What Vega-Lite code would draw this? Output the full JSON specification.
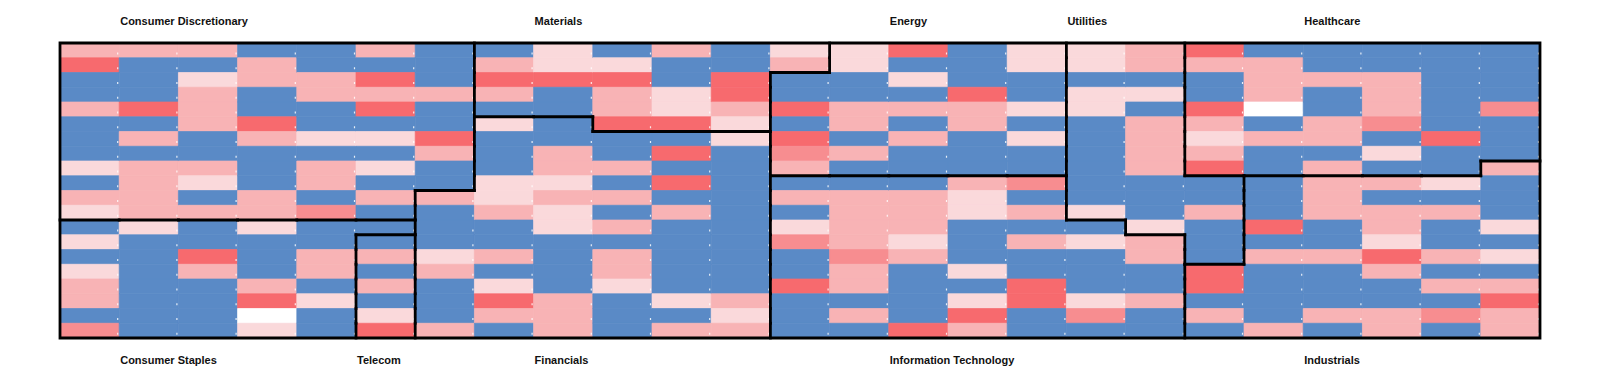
{
"$schema": "https://vega.github.io/schema/vega-lite/v6.json",
"width": 1480, "height": 295,
"autosize": {"type": "none"},
"padding": {"left": 60, "top": 43, "right": 60, "bottom": 44},
"background": "white",
"config": {"view": {"stroke": null}},
"datasets": {
"labels": [
{"name":"Consumer Discretionary","c":1,"side":"top"},
{"name":"Materials","c":8,"side":"top"},
{"name":"Energy","c":14,"side":"top"},
{"name":"Utilities","c":17,"side":"top"},
{"name":"Healthcare","c":21,"side":"top"},
{"name":"Consumer Staples","c":1,"side":"bottom"},
{"name":"Telecom","c":5,"side":"bottom"},
{"name":"Financials","c":8,"side":"bottom"},
{"name":"Information Technology","c":14,"side":"bottom"},
{"name":"Industrials","c":21,"side":"bottom"}
],
"cells": [
{"c":0,"r":0,"v":"P","s":"CD"},{"c":0,"r":1,"v":"R","s":"CD"},{"c":0,"r":2,"v":"B","s":"CD"},{"c":0,"r":3,"v":"B","s":"CD"},{"c":0,"r":4,"v":"P","s":"CD"},{"c":0,"r":5,"v":"B","s":"CD"},{"c":0,"r":6,"v":"B","s":"CD"},{"c":0,"r":7,"v":"B","s":"CD"},{"c":0,"r":8,"v":"L","s":"CD"},{"c":0,"r":9,"v":"B","s":"CD"},{"c":0,"r":10,"v":"P","s":"CD"},{"c":0,"r":11,"v":"L","s":"CD"},{"c":0,"r":12,"v":"B","s":"CS"},{"c":0,"r":13,"v":"L","s":"CS"},{"c":0,"r":14,"v":"B","s":"CS"},{"c":0,"r":15,"v":"L","s":"CS"},{"c":0,"r":16,"v":"P","s":"CS"},{"c":0,"r":17,"v":"P","s":"CS"},{"c":0,"r":18,"v":"B","s":"CS"},{"c":0,"r":19,"v":"M","s":"CS"},
{"c":1,"r":0,"v":"P","s":"CD"},{"c":1,"r":1,"v":"B","s":"CD"},{"c":1,"r":2,"v":"B","s":"CD"},{"c":1,"r":3,"v":"B","s":"CD"},{"c":1,"r":4,"v":"R","s":"CD"},{"c":1,"r":5,"v":"B","s":"CD"},{"c":1,"r":6,"v":"P","s":"CD"},{"c":1,"r":7,"v":"B","s":"CD"},{"c":1,"r":8,"v":"P","s":"CD"},{"c":1,"r":9,"v":"P","s":"CD"},{"c":1,"r":10,"v":"P","s":"CD"},{"c":1,"r":11,"v":"P","s":"CD"},{"c":1,"r":12,"v":"L","s":"CS"},{"c":1,"r":13,"v":"B","s":"CS"},{"c":1,"r":14,"v":"B","s":"CS"},{"c":1,"r":15,"v":"B","s":"CS"},{"c":1,"r":16,"v":"B","s":"CS"},{"c":1,"r":17,"v":"B","s":"CS"},{"c":1,"r":18,"v":"B","s":"CS"},{"c":1,"r":19,"v":"B","s":"CS"},
{"c":2,"r":0,"v":"P","s":"CD"},{"c":2,"r":1,"v":"B","s":"CD"},{"c":2,"r":2,"v":"L","s":"CD"},{"c":2,"r":3,"v":"P","s":"CD"},{"c":2,"r":4,"v":"P","s":"CD"},{"c":2,"r":5,"v":"P","s":"CD"},{"c":2,"r":6,"v":"B","s":"CD"},{"c":2,"r":7,"v":"B","s":"CD"},{"c":2,"r":8,"v":"P","s":"CD"},{"c":2,"r":9,"v":"L","s":"CD"},{"c":2,"r":10,"v":"B","s":"CD"},{"c":2,"r":11,"v":"P","s":"CD"},{"c":2,"r":12,"v":"B","s":"CS"},{"c":2,"r":13,"v":"B","s":"CS"},{"c":2,"r":14,"v":"R","s":"CS"},{"c":2,"r":15,"v":"P","s":"CS"},{"c":2,"r":16,"v":"B","s":"CS"},{"c":2,"r":17,"v":"B","s":"CS"},{"c":2,"r":18,"v":"B","s":"CS"},{"c":2,"r":19,"v":"B","s":"CS"},
{"c":3,"r":0,"v":"B","s":"CD"},{"c":3,"r":1,"v":"P","s":"CD"},{"c":3,"r":2,"v":"P","s":"CD"},{"c":3,"r":3,"v":"B","s":"CD"},{"c":3,"r":4,"v":"B","s":"CD"},{"c":3,"r":5,"v":"R","s":"CD"},{"c":3,"r":6,"v":"P","s":"CD"},{"c":3,"r":7,"v":"B","s":"CD"},{"c":3,"r":8,"v":"B","s":"CD"},{"c":3,"r":9,"v":"B","s":"CD"},{"c":3,"r":10,"v":"P","s":"CD"},{"c":3,"r":11,"v":"P","s":"CD"},{"c":3,"r":12,"v":"L","s":"CS"},{"c":3,"r":13,"v":"B","s":"CS"},{"c":3,"r":14,"v":"B","s":"CS"},{"c":3,"r":15,"v":"B","s":"CS"},{"c":3,"r":16,"v":"P","s":"CS"},{"c":3,"r":17,"v":"R","s":"CS"},{"c":3,"r":18,"v":"W","s":"CS"},{"c":3,"r":19,"v":"L","s":"CS"},
{"c":4,"r":0,"v":"B","s":"CD"},{"c":4,"r":1,"v":"B","s":"CD"},{"c":4,"r":2,"v":"P","s":"CD"},{"c":4,"r":3,"v":"P","s":"CD"},{"c":4,"r":4,"v":"B","s":"CD"},{"c":4,"r":5,"v":"B","s":"CD"},{"c":4,"r":6,"v":"L","s":"CD"},{"c":4,"r":7,"v":"B","s":"CD"},{"c":4,"r":8,"v":"P","s":"CD"},{"c":4,"r":9,"v":"P","s":"CD"},{"c":4,"r":10,"v":"B","s":"CD"},{"c":4,"r":11,"v":"M","s":"CD"},{"c":4,"r":12,"v":"B","s":"CS"},{"c":4,"r":13,"v":"B","s":"CS"},{"c":4,"r":14,"v":"P","s":"CS"},{"c":4,"r":15,"v":"P","s":"CS"},{"c":4,"r":16,"v":"B","s":"CS"},{"c":4,"r":17,"v":"L","s":"CS"},{"c":4,"r":18,"v":"B","s":"CS"},{"c":4,"r":19,"v":"B","s":"CS"},
{"c":5,"r":0,"v":"P","s":"CD"},{"c":5,"r":1,"v":"B","s":"CD"},{"c":5,"r":2,"v":"R","s":"CD"},{"c":5,"r":3,"v":"P","s":"CD"},{"c":5,"r":4,"v":"R","s":"CD"},{"c":5,"r":5,"v":"B","s":"CD"},{"c":5,"r":6,"v":"L","s":"CD"},{"c":5,"r":7,"v":"B","s":"CD"},{"c":5,"r":8,"v":"L","s":"CD"},{"c":5,"r":9,"v":"B","s":"CD"},{"c":5,"r":10,"v":"P","s":"CD"},{"c":5,"r":11,"v":"B","s":"CD"},{"c":5,"r":12,"v":"B","s":"CS"},{"c":5,"r":13,"v":"B","s":"T"},{"c":5,"r":14,"v":"P","s":"T"},{"c":5,"r":15,"v":"B","s":"T"},{"c":5,"r":16,"v":"P","s":"T"},{"c":5,"r":17,"v":"B","s":"T"},{"c":5,"r":18,"v":"L","s":"T"},{"c":5,"r":19,"v":"R","s":"T"},
{"c":6,"r":0,"v":"B","s":"CD"},{"c":6,"r":1,"v":"B","s":"CD"},{"c":6,"r":2,"v":"B","s":"CD"},{"c":6,"r":3,"v":"P","s":"CD"},{"c":6,"r":4,"v":"B","s":"CD"},{"c":6,"r":5,"v":"B","s":"CD"},{"c":6,"r":6,"v":"R","s":"CD"},{"c":6,"r":7,"v":"P","s":"CD"},{"c":6,"r":8,"v":"B","s":"CD"},{"c":6,"r":9,"v":"B","s":"CD"},{"c":6,"r":10,"v":"P","s":"F"},{"c":6,"r":11,"v":"B","s":"F"},{"c":6,"r":12,"v":"B","s":"F"},{"c":6,"r":13,"v":"B","s":"F"},{"c":6,"r":14,"v":"L","s":"F"},{"c":6,"r":15,"v":"P","s":"F"},{"c":6,"r":16,"v":"B","s":"F"},{"c":6,"r":17,"v":"B","s":"F"},{"c":6,"r":18,"v":"B","s":"F"},{"c":6,"r":19,"v":"P","s":"F"},
{"c":7,"r":0,"v":"B","s":"M"},{"c":7,"r":1,"v":"P","s":"M"},{"c":7,"r":2,"v":"R","s":"M"},{"c":7,"r":3,"v":"P","s":"M"},{"c":7,"r":4,"v":"B","s":"M"},{"c":7,"r":5,"v":"L","s":"F"},{"c":7,"r":6,"v":"B","s":"F"},{"c":7,"r":7,"v":"B","s":"F"},{"c":7,"r":8,"v":"B","s":"F"},{"c":7,"r":9,"v":"L","s":"F"},{"c":7,"r":10,"v":"L","s":"F"},{"c":7,"r":11,"v":"P","s":"F"},{"c":7,"r":12,"v":"B","s":"F"},{"c":7,"r":13,"v":"B","s":"F"},{"c":7,"r":14,"v":"P","s":"F"},{"c":7,"r":15,"v":"B","s":"F"},{"c":7,"r":16,"v":"L","s":"F"},{"c":7,"r":17,"v":"R","s":"F"},{"c":7,"r":18,"v":"P","s":"F"},{"c":7,"r":19,"v":"B","s":"F"},
{"c":8,"r":0,"v":"L","s":"M"},{"c":8,"r":1,"v":"L","s":"M"},{"c":8,"r":2,"v":"R","s":"M"},{"c":8,"r":3,"v":"B","s":"M"},{"c":8,"r":4,"v":"B","s":"M"},{"c":8,"r":5,"v":"B","s":"F"},{"c":8,"r":6,"v":"B","s":"F"},{"c":8,"r":7,"v":"P","s":"F"},{"c":8,"r":8,"v":"P","s":"F"},{"c":8,"r":9,"v":"L","s":"F"},{"c":8,"r":10,"v":"P","s":"F"},{"c":8,"r":11,"v":"L","s":"F"},{"c":8,"r":12,"v":"L","s":"F"},{"c":8,"r":13,"v":"B","s":"F"},{"c":8,"r":14,"v":"B","s":"F"},{"c":8,"r":15,"v":"B","s":"F"},{"c":8,"r":16,"v":"B","s":"F"},{"c":8,"r":17,"v":"P","s":"F"},{"c":8,"r":18,"v":"P","s":"F"},{"c":8,"r":19,"v":"P","s":"F"},
{"c":9,"r":0,"v":"B","s":"M"},{"c":9,"r":1,"v":"L","s":"M"},{"c":9,"r":2,"v":"R","s":"M"},{"c":9,"r":3,"v":"P","s":"M"},{"c":9,"r":4,"v":"P","s":"M"},{"c":9,"r":5,"v":"R","s":"M"},{"c":9,"r":6,"v":"B","s":"F"},{"c":9,"r":7,"v":"B","s":"F"},{"c":9,"r":8,"v":"P","s":"F"},{"c":9,"r":9,"v":"B","s":"F"},{"c":9,"r":10,"v":"P","s":"F"},{"c":9,"r":11,"v":"B","s":"F"},{"c":9,"r":12,"v":"P","s":"F"},{"c":9,"r":13,"v":"B","s":"F"},{"c":9,"r":14,"v":"P","s":"F"},{"c":9,"r":15,"v":"P","s":"F"},{"c":9,"r":16,"v":"L","s":"F"},{"c":9,"r":17,"v":"B","s":"F"},{"c":9,"r":18,"v":"B","s":"F"},{"c":9,"r":19,"v":"B","s":"F"},
{"c":10,"r":0,"v":"P","s":"M"},{"c":10,"r":1,"v":"B","s":"M"},{"c":10,"r":2,"v":"B","s":"M"},{"c":10,"r":3,"v":"L","s":"M"},{"c":10,"r":4,"v":"L","s":"M"},{"c":10,"r":5,"v":"R","s":"M"},{"c":10,"r":6,"v":"B","s":"F"},{"c":10,"r":7,"v":"R","s":"F"},{"c":10,"r":8,"v":"B","s":"F"},{"c":10,"r":9,"v":"R","s":"F"},{"c":10,"r":10,"v":"B","s":"F"},{"c":10,"r":11,"v":"P","s":"F"},{"c":10,"r":12,"v":"B","s":"F"},{"c":10,"r":13,"v":"B","s":"F"},{"c":10,"r":14,"v":"B","s":"F"},{"c":10,"r":15,"v":"B","s":"F"},{"c":10,"r":16,"v":"B","s":"F"},{"c":10,"r":17,"v":"L","s":"F"},{"c":10,"r":18,"v":"B","s":"F"},{"c":10,"r":19,"v":"P","s":"F"},
{"c":11,"r":0,"v":"B","s":"M"},{"c":11,"r":1,"v":"B","s":"M"},{"c":11,"r":2,"v":"R","s":"M"},{"c":11,"r":3,"v":"R","s":"M"},{"c":11,"r":4,"v":"P","s":"M"},{"c":11,"r":5,"v":"L","s":"M"},{"c":11,"r":6,"v":"L","s":"F"},{"c":11,"r":7,"v":"B","s":"F"},{"c":11,"r":8,"v":"B","s":"F"},{"c":11,"r":9,"v":"B","s":"F"},{"c":11,"r":10,"v":"B","s":"F"},{"c":11,"r":11,"v":"B","s":"F"},{"c":11,"r":12,"v":"B","s":"F"},{"c":11,"r":13,"v":"B","s":"F"},{"c":11,"r":14,"v":"B","s":"F"},{"c":11,"r":15,"v":"B","s":"F"},{"c":11,"r":16,"v":"B","s":"F"},{"c":11,"r":17,"v":"P","s":"F"},{"c":11,"r":18,"v":"L","s":"F"},{"c":11,"r":19,"v":"P","s":"F"},
{"c":12,"r":0,"v":"L","s":"M"},{"c":12,"r":1,"v":"P","s":"M"},{"c":12,"r":2,"v":"B","s":"E"},{"c":12,"r":3,"v":"B","s":"E"},{"c":12,"r":4,"v":"R","s":"E"},{"c":12,"r":5,"v":"B","s":"E"},{"c":12,"r":6,"v":"R","s":"E"},{"c":12,"r":7,"v":"M","s":"E"},{"c":12,"r":8,"v":"P","s":"E"},{"c":12,"r":9,"v":"B","s":"IT"},{"c":12,"r":10,"v":"P","s":"IT"},{"c":12,"r":11,"v":"B","s":"IT"},{"c":12,"r":12,"v":"L","s":"IT"},{"c":12,"r":13,"v":"M","s":"IT"},{"c":12,"r":14,"v":"B","s":"IT"},{"c":12,"r":15,"v":"B","s":"IT"},{"c":12,"r":16,"v":"R","s":"IT"},{"c":12,"r":17,"v":"B","s":"IT"},{"c":12,"r":18,"v":"B","s":"IT"},{"c":12,"r":19,"v":"B","s":"IT"},
{"c":13,"r":0,"v":"L","s":"E"},{"c":13,"r":1,"v":"L","s":"E"},{"c":13,"r":2,"v":"B","s":"E"},{"c":13,"r":3,"v":"B","s":"E"},{"c":13,"r":4,"v":"P","s":"E"},{"c":13,"r":5,"v":"P","s":"E"},{"c":13,"r":6,"v":"B","s":"E"},{"c":13,"r":7,"v":"P","s":"E"},{"c":13,"r":8,"v":"B","s":"E"},{"c":13,"r":9,"v":"B","s":"IT"},{"c":13,"r":10,"v":"P","s":"IT"},{"c":13,"r":11,"v":"P","s":"IT"},{"c":13,"r":12,"v":"P","s":"IT"},{"c":13,"r":13,"v":"P","s":"IT"},{"c":13,"r":14,"v":"M","s":"IT"},{"c":13,"r":15,"v":"P","s":"IT"},{"c":13,"r":16,"v":"P","s":"IT"},{"c":13,"r":17,"v":"B","s":"IT"},{"c":13,"r":18,"v":"P","s":"IT"},{"c":13,"r":19,"v":"B","s":"IT"},
{"c":14,"r":0,"v":"R","s":"E"},{"c":14,"r":1,"v":"B","s":"E"},{"c":14,"r":2,"v":"L","s":"E"},{"c":14,"r":3,"v":"B","s":"E"},{"c":14,"r":4,"v":"P","s":"E"},{"c":14,"r":5,"v":"B","s":"E"},{"c":14,"r":6,"v":"P","s":"E"},{"c":14,"r":7,"v":"B","s":"E"},{"c":14,"r":8,"v":"B","s":"E"},{"c":14,"r":9,"v":"B","s":"IT"},{"c":14,"r":10,"v":"P","s":"IT"},{"c":14,"r":11,"v":"P","s":"IT"},{"c":14,"r":12,"v":"P","s":"IT"},{"c":14,"r":13,"v":"L","s":"IT"},{"c":14,"r":14,"v":"P","s":"IT"},{"c":14,"r":15,"v":"B","s":"IT"},{"c":14,"r":16,"v":"B","s":"IT"},{"c":14,"r":17,"v":"B","s":"IT"},{"c":14,"r":18,"v":"B","s":"IT"},{"c":14,"r":19,"v":"R","s":"IT"},
{"c":15,"r":0,"v":"B","s":"E"},{"c":15,"r":1,"v":"B","s":"E"},{"c":15,"r":2,"v":"B","s":"E"},{"c":15,"r":3,"v":"R","s":"E"},{"c":15,"r":4,"v":"P","s":"E"},{"c":15,"r":5,"v":"P","s":"E"},{"c":15,"r":6,"v":"B","s":"E"},{"c":15,"r":7,"v":"B","s":"E"},{"c":15,"r":8,"v":"B","s":"E"},{"c":15,"r":9,"v":"P","s":"IT"},{"c":15,"r":10,"v":"L","s":"IT"},{"c":15,"r":11,"v":"L","s":"IT"},{"c":15,"r":12,"v":"B","s":"IT"},{"c":15,"r":13,"v":"B","s":"IT"},{"c":15,"r":14,"v":"B","s":"IT"},{"c":15,"r":15,"v":"L","s":"IT"},{"c":15,"r":16,"v":"B","s":"IT"},{"c":15,"r":17,"v":"L","s":"IT"},{"c":15,"r":18,"v":"R","s":"IT"},{"c":15,"r":19,"v":"P","s":"IT"},
{"c":16,"r":0,"v":"L","s":"E"},{"c":16,"r":1,"v":"L","s":"E"},{"c":16,"r":2,"v":"B","s":"E"},{"c":16,"r":3,"v":"B","s":"E"},{"c":16,"r":4,"v":"L","s":"E"},{"c":16,"r":5,"v":"B","s":"E"},{"c":16,"r":6,"v":"L","s":"E"},{"c":16,"r":7,"v":"B","s":"E"},{"c":16,"r":8,"v":"B","s":"E"},{"c":16,"r":9,"v":"M","s":"IT"},{"c":16,"r":10,"v":"B","s":"IT"},{"c":16,"r":11,"v":"P","s":"IT"},{"c":16,"r":12,"v":"B","s":"IT"},{"c":16,"r":13,"v":"P","s":"IT"},{"c":16,"r":14,"v":"B","s":"IT"},{"c":16,"r":15,"v":"B","s":"IT"},{"c":16,"r":16,"v":"R","s":"IT"},{"c":16,"r":17,"v":"R","s":"IT"},{"c":16,"r":18,"v":"B","s":"IT"},{"c":16,"r":19,"v":"B","s":"IT"},
{"c":17,"r":0,"v":"L","s":"U"},{"c":17,"r":1,"v":"L","s":"U"},{"c":17,"r":2,"v":"B","s":"U"},{"c":17,"r":3,"v":"L","s":"U"},{"c":17,"r":4,"v":"L","s":"U"},{"c":17,"r":5,"v":"B","s":"U"},{"c":17,"r":6,"v":"B","s":"U"},{"c":17,"r":7,"v":"B","s":"U"},{"c":17,"r":8,"v":"B","s":"U"},{"c":17,"r":9,"v":"B","s":"U"},{"c":17,"r":10,"v":"B","s":"U"},{"c":17,"r":11,"v":"L","s":"U"},{"c":17,"r":12,"v":"B","s":"IT"},{"c":17,"r":13,"v":"L","s":"IT"},{"c":17,"r":14,"v":"B","s":"IT"},{"c":17,"r":15,"v":"B","s":"IT"},{"c":17,"r":16,"v":"B","s":"IT"},{"c":17,"r":17,"v":"L","s":"IT"},{"c":17,"r":18,"v":"M","s":"IT"},{"c":17,"r":19,"v":"B","s":"IT"},
{"c":18,"r":0,"v":"P","s":"U"},{"c":18,"r":1,"v":"P","s":"U"},{"c":18,"r":2,"v":"B","s":"U"},{"c":18,"r":3,"v":"L","s":"U"},{"c":18,"r":4,"v":"B","s":"U"},{"c":18,"r":5,"v":"P","s":"U"},{"c":18,"r":6,"v":"P","s":"U"},{"c":18,"r":7,"v":"P","s":"U"},{"c":18,"r":8,"v":"P","s":"U"},{"c":18,"r":9,"v":"B","s":"U"},{"c":18,"r":10,"v":"B","s":"U"},{"c":18,"r":11,"v":"B","s":"U"},{"c":18,"r":12,"v":"L","s":"U"},{"c":18,"r":13,"v":"P","s":"IT"},{"c":18,"r":14,"v":"P","s":"IT"},{"c":18,"r":15,"v":"B","s":"IT"},{"c":18,"r":16,"v":"B","s":"IT"},{"c":18,"r":17,"v":"P","s":"IT"},{"c":18,"r":18,"v":"B","s":"IT"},{"c":18,"r":19,"v":"B","s":"IT"},
{"c":19,"r":0,"v":"R","s":"HC"},{"c":19,"r":1,"v":"P","s":"HC"},{"c":19,"r":2,"v":"B","s":"HC"},{"c":19,"r":3,"v":"B","s":"HC"},{"c":19,"r":4,"v":"R","s":"HC"},{"c":19,"r":5,"v":"P","s":"HC"},{"c":19,"r":6,"v":"L","s":"HC"},{"c":19,"r":7,"v":"P","s":"HC"},{"c":19,"r":8,"v":"R","s":"HC"},{"c":19,"r":9,"v":"B","s":"U"},{"c":19,"r":10,"v":"B","s":"U"},{"c":19,"r":11,"v":"P","s":"U"},{"c":19,"r":12,"v":"B","s":"U"},{"c":19,"r":13,"v":"B","s":"U"},{"c":19,"r":14,"v":"B","s":"U"},{"c":19,"r":15,"v":"R","s":"I"},{"c":19,"r":16,"v":"R","s":"I"},{"c":19,"r":17,"v":"B","s":"I"},{"c":19,"r":18,"v":"P","s":"I"},{"c":19,"r":19,"v":"B","s":"I"},
{"c":20,"r":0,"v":"B","s":"HC"},{"c":20,"r":1,"v":"P","s":"HC"},{"c":20,"r":2,"v":"P","s":"HC"},{"c":20,"r":3,"v":"P","s":"HC"},{"c":20,"r":4,"v":"W","s":"HC"},{"c":20,"r":5,"v":"B","s":"HC"},{"c":20,"r":6,"v":"P","s":"HC"},{"c":20,"r":7,"v":"B","s":"HC"},{"c":20,"r":8,"v":"B","s":"HC"},{"c":20,"r":9,"v":"B","s":"I"},{"c":20,"r":10,"v":"B","s":"I"},{"c":20,"r":11,"v":"B","s":"I"},{"c":20,"r":12,"v":"R","s":"I"},{"c":20,"r":13,"v":"B","s":"I"},{"c":20,"r":14,"v":"P","s":"I"},{"c":20,"r":15,"v":"B","s":"I"},{"c":20,"r":16,"v":"B","s":"I"},{"c":20,"r":17,"v":"B","s":"I"},{"c":20,"r":18,"v":"B","s":"I"},{"c":20,"r":19,"v":"P","s":"I"},
{"c":21,"r":0,"v":"B","s":"HC"},{"c":21,"r":1,"v":"B","s":"HC"},{"c":21,"r":2,"v":"P","s":"HC"},{"c":21,"r":3,"v":"B","s":"HC"},{"c":21,"r":4,"v":"B","s":"HC"},{"c":21,"r":5,"v":"P","s":"HC"},{"c":21,"r":6,"v":"P","s":"HC"},{"c":21,"r":7,"v":"B","s":"HC"},{"c":21,"r":8,"v":"P","s":"HC"},{"c":21,"r":9,"v":"P","s":"I"},{"c":21,"r":10,"v":"P","s":"I"},{"c":21,"r":11,"v":"P","s":"I"},{"c":21,"r":12,"v":"B","s":"I"},{"c":21,"r":13,"v":"B","s":"I"},{"c":21,"r":14,"v":"P","s":"I"},{"c":21,"r":15,"v":"B","s":"I"},{"c":21,"r":16,"v":"B","s":"I"},{"c":21,"r":17,"v":"B","s":"I"},{"c":21,"r":18,"v":"P","s":"I"},{"c":21,"r":19,"v":"B","s":"I"},
{"c":22,"r":0,"v":"B","s":"HC"},{"c":22,"r":1,"v":"B","s":"HC"},{"c":22,"r":2,"v":"P","s":"HC"},{"c":22,"r":3,"v":"P","s":"HC"},{"c":22,"r":4,"v":"P","s":"HC"},{"c":22,"r":5,"v":"M","s":"HC"},{"c":22,"r":6,"v":"B","s":"HC"},{"c":22,"r":7,"v":"L","s":"HC"},{"c":22,"r":8,"v":"B","s":"HC"},{"c":22,"r":9,"v":"P","s":"I"},{"c":22,"r":10,"v":"B","s":"I"},{"c":22,"r":11,"v":"P","s":"I"},{"c":22,"r":12,"v":"P","s":"I"},{"c":22,"r":13,"v":"L","s":"I"},{"c":22,"r":14,"v":"R","s":"I"},{"c":22,"r":15,"v":"P","s":"I"},{"c":22,"r":16,"v":"B","s":"I"},{"c":22,"r":17,"v":"B","s":"I"},{"c":22,"r":18,"v":"P","s":"I"},{"c":22,"r":19,"v":"P","s":"I"},
{"c":23,"r":0,"v":"B","s":"HC"},{"c":23,"r":1,"v":"B","s":"HC"},{"c":23,"r":2,"v":"B","s":"HC"},{"c":23,"r":3,"v":"B","s":"HC"},{"c":23,"r":4,"v":"B","s":"HC"},{"c":23,"r":5,"v":"B","s":"HC"},{"c":23,"r":6,"v":"R","s":"HC"},{"c":23,"r":7,"v":"B","s":"HC"},{"c":23,"r":8,"v":"B","s":"HC"},{"c":23,"r":9,"v":"L","s":"I"},{"c":23,"r":10,"v":"B","s":"I"},{"c":23,"r":11,"v":"P","s":"I"},{"c":23,"r":12,"v":"B","s":"I"},{"c":23,"r":13,"v":"B","s":"I"},{"c":23,"r":14,"v":"P","s":"I"},{"c":23,"r":15,"v":"B","s":"I"},{"c":23,"r":16,"v":"P","s":"I"},{"c":23,"r":17,"v":"B","s":"I"},{"c":23,"r":18,"v":"M","s":"I"},{"c":23,"r":19,"v":"B","s":"I"},
{"c":24,"r":0,"v":"B","s":"HC"},{"c":24,"r":1,"v":"B","s":"HC"},{"c":24,"r":2,"v":"B","s":"HC"},{"c":24,"r":3,"v":"B","s":"HC"},{"c":24,"r":4,"v":"M","s":"HC"},{"c":24,"r":5,"v":"B","s":"HC"},{"c":24,"r":6,"v":"B","s":"HC"},{"c":24,"r":7,"v":"B","s":"HC"},{"c":24,"r":8,"v":"P","s":"I"},{"c":24,"r":9,"v":"B","s":"I"},{"c":24,"r":10,"v":"B","s":"I"},{"c":24,"r":11,"v":"B","s":"I"},{"c":24,"r":12,"v":"L","s":"I"},{"c":24,"r":13,"v":"B","s":"I"},{"c":24,"r":14,"v":"L","s":"I"},{"c":24,"r":15,"v":"B","s":"I"},{"c":24,"r":16,"v":"P","s":"I"},{"c":24,"r":17,"v":"R","s":"I"},{"c":24,"r":18,"v":"P","s":"I"},{"c":24,"r":19,"v":"P","s":"I"}
]
},
"layer": [
{
"data": {"name": "cells"},
"transform": [
{"bin": {"step": 1, "extent": [0, 25]}, "field": "c", "as": ["c0", "c1"]},
{"bin": {"step": 1, "extent": [0, 20]}, "field": "r", "as": ["r0", "r1"]}
],
"mark": {"type": "rect", "strokeWidth": 0.7},
"encoding": {
"x": {"field": "c0", "type": "quantitative", "scale": {"domain": [0, 25], "nice": false, "zero": false}, "axis": null},
"x2": {"field": "c1"},
"y": {"field": "r0", "type": "quantitative", "scale": {"domain": [0, 20], "nice": false, "zero": false, "reverse": true}, "axis": null},
"y2": {"field": "r1"},
"color": {"field": "v", "type": "nominal", "legend": null,
"scale": {"domain": ["B", "W", "L", "P", "M", "R"], "range": ["#5a8ac6", "#ffffff", "#fad9db", "#f8b3b5", "#f78d90", "#f76a6e"]}},
"stroke": {"field": "v", "type": "nominal", "legend": null,
"scale": {"domain": ["B", "W", "L", "P", "M", "R"], "range": ["#5a8ac6", "#ffffff", "#fad9db", "#f8b3b5", "#f78d90", "#f76a6e"]}}
}
},
{
"data": {"name": "cells"},
"transform": [
{"filter": "datum.r == 0"},
{"bin": {"step": 1, "extent": [0, 25]}, "field": "c", "as": ["c0", "c1"]}
],
"mark": {"type": "rule", "stroke": "white", "strokeWidth": 1.2, "opacity": 0.85, "strokeDash": [2, 12.75], "strokeDashOffset": 5.25, "xOffset": -1.5},
"encoding": {
"x": {"field": "c1", "type": "quantitative", "scale": {"domain": [0, 25], "nice": false, "zero": false}, "axis": null},
"y": {"datum": 0, "type": "quantitative", "scale": {"domain": [0, 20], "nice": false, "zero": false, "reverse": true}, "axis": null},
"y2": {"datum": 20}
}
},
{
"data": {"name": "cells"},
"transform": [
{"window": [{"op": "lead", "field": "s", "as": "ns"}], "groupby": ["r"], "sort": [{"field": "c", "order": "ascending"}]},
{"filter": "datum.ns != null && datum.ns != datum.s"},
{"bin": {"step": 1, "extent": [0, 25]}, "field": "c", "as": ["c0", "c1"]},
{"bin": {"step": 1, "extent": [0, 20]}, "field": "r", "as": ["r0", "r1"]}
],
"mark": {"type": "rule", "stroke": "black", "strokeWidth": 2.8, "strokeCap": "square"},
"encoding": {
"x": {"field": "c1", "type": "quantitative", "scale": {"domain": [0, 25], "nice": false, "zero": false}, "axis": null},
"y": {"field": "r0", "type": "quantitative", "scale": {"domain": [0, 20], "nice": false, "zero": false, "reverse": true}, "axis": null},
"y2": {"field": "r1"}
}
},
{
"data": {"name": "cells"},
"transform": [
{"window": [{"op": "lead", "field": "s", "as": "bs"}], "groupby": ["c"], "sort": [{"field": "r", "order": "ascending"}]},
{"filter": "datum.bs != null && datum.bs != datum.s"},
{"bin": {"step": 1, "extent": [0, 25]}, "field": "c", "as": ["c0", "c1"]},
{"bin": {"step": 1, "extent": [0, 20]}, "field": "r", "as": ["r0", "r1"]}
],
"mark": {"type": "rule", "stroke": "black", "strokeWidth": 2.8, "strokeCap": "square"},
"encoding": {
"x": {"field": "c0", "type": "quantitative", "scale": {"domain": [0, 25], "nice": false, "zero": false}, "axis": null},
"x2": {"field": "c1"},
"y": {"field": "r1", "type": "quantitative", "scale": {"domain": [0, 20], "nice": false, "zero": false, "reverse": true}, "axis": null}
}
},
{
"data": {"values": [{}]},
"mark": {"type": "rect", "fill": "transparent", "stroke": "black", "strokeWidth": 2.8},
"encoding": {
"x": {"datum": 0, "type": "quantitative", "scale": {"domain": [0, 25], "nice": false, "zero": false}, "axis": null},
"x2": {"datum": 25},
"y": {"datum": 0, "type": "quantitative", "scale": {"domain": [0, 20], "nice": false, "zero": false, "reverse": true}, "axis": null},
"y2": {"datum": 20}
}
},
{
"data": {"name": "labels"},
"mark": {"type": "text", "align": "left", "baseline": "middle", "font": "Liberation Sans", "fontSize": 11, "fontWeight": "bold", "color": "#111111", "dx": 1},
"encoding": {
"x": {"field": "c", "type": "quantitative", "scale": {"domain": [0, 25], "nice": false, "zero": false}, "axis": null},
"y": {"field": "side", "type": "nominal", "scale": {"type": "point", "domain": ["top", "bottom"], "range": [-21.5, 318], "padding": 0}, "axis": null},
"text": {"field": "name"}
}
}
],
"resolve": {"scale": {"y": "independent"}}
}
